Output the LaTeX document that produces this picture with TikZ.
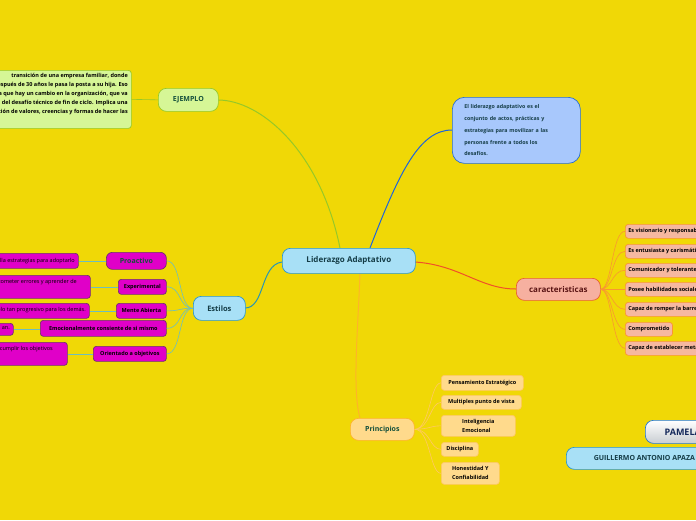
\documentclass[tikz,border=0pt]{standalone}
\usepackage{fontspec}
\setmainfont{Open Sans}
\definecolor{bg}{RGB}{240,216,6}
\definecolor{magf}{RGB}{224,0,200}
\definecolor{magd}{RGB}{110,50,110}
\definecolor{salf}{RGB}{246,184,160}
\definecolor{orl}{RGB}{250,150,50}
\definecolor{prif}{RGB}{255,218,140}
\definecolor{prid}{RGB}{255,200,100}
\definecolor{grnf}{RGB}{214,246,150}
\definecolor{grnd}{RGB}{150,200,40}
\definecolor{lbf}{RGB}{168,224,246}
\definecolor{lbd}{RGB}{40,150,210}
\definecolor{dtext}{RGB}{20,60,70}
\definecolor{gtext}{RGB}{20,80,60}
\definecolor{bln}{RGB}{30,100,220}
\definecolor{tln}{RGB}{40,150,180}
\definecolor{rln}{RGB}{240,80,40}
\definecolor{oln}{RGB}{255,180,40}
\definecolor{descf}{RGB}{168,200,252}
\definecolor{descd}{RGB}{40,110,210}
\definecolor{cyl}{RGB}{110,190,190}
\definecolor{caf}{RGB}{246,176,160}
\definecolor{cad}{RGB}{232,96,48}
\definecolor{catext}{RGB}{90,20,20}
\definecolor{gray2}{RGB}{200,205,210}
\definecolor{pad}{RGB}{40,120,200}
\definecolor{patext}{RGB}{20,40,90}
\begin{document}
\begin{tikzpicture}[x=1pt,y=-1pt,
 box/.style={draw,rounded corners=3pt,line width=0.7pt,inner sep=0pt,anchor=north west,font=\bfseries\fontsize{5.5}{9}\selectfont,align=left},
 mag/.style={box,fill=magf,draw=magd},
 sal/.style={box,fill=salf,draw=orl},
 pri/.style={box,fill=prif,draw=prid},
 grn/.style={box,fill=grnf,draw=grnd},
 lb/.style={box,fill=lbf,draw=lbd,rounded corners=8pt,font=\bfseries\fontsize{8}{10}\selectfont,text=dtext,align=center},
 lt/.style={inner sep=0pt,anchor=north east,font=\fontsize{5.5}{9}\selectfont,align=right},
 ln/.style={line width=0.6pt}]
\fill[bg] (0,0) rectangle (696,520);
\useasboundingbox (0,0) rectangle (696,520);
\clip (0,0) rectangle (696,520);
% connectors
\draw[line width=1pt,grnd] (340,248) .. controls (320,150) and (260,100) .. (218,100);
\draw[line width=1pt,bln] (370,248) .. controls (400,170) and (420,130) .. (452,130);
\draw[line width=1pt,tln] (282,262) .. controls (260,265) and (265,308) .. (245,308);
\draw[line width=1pt,rln] (415,262) .. controls (460,265) and (480,289) .. (516,289);
\draw[line width=1pt,oln] (360,273) .. controls (358,330) and (352,390) .. (360,418);
% central
\node[lb,minimum width=133pt,minimum height=25pt] (c) at (282,248) {Liderazgo Adaptativo};
% ejemplo
\node[grn,rounded corners=8pt,minimum width=60pt,minimum height=23pt,align=center,font=\bfseries\fontsize{7}{9}\selectfont,text=gtext] (ej) at (158,88) {EJEMPLO};
\node[grn,minimum width=141pt,minimum height=58pt] (ejt) at (-10,70) {};
\node[lt,font=\bfseries\fontsize{5.5}{9}\selectfont] (ejx) at (128,73) {transición de una empresa familiar, donde\\ después de 30 años le pasa la posta a su hija. Eso\\ implica que hay un cambio en la organización, que va\\ más allá del desafío técnico de fin de ciclo. Implica una\\ transformación de valores, creencias y formas de hacer las};
\draw[ln,grnd] (ejt.east) -- (ej.west);
% description
\node[box,fill=descf,draw=descd,rounded corners=12pt,minimum width=128pt,minimum height=66pt,text width=104pt,inner xsep=12pt,font=\bfseries\fontsize{5.3}{11.8}\selectfont,text=dtext] (d) at (452,97) {El liderazgo adaptativo es el\\ conjunto de actos, prácticas y\\ estrategias para movilizar a las\\ personas frente a todos los\\ desafíos.};
% estilos
\node[lb,minimum width=52pt,minimum height=24pt,font=\bfseries\fontsize{7.5}{9}\selectfont] (es) at (193,296) {Estilos};
\node[mag,rounded corners=6pt,minimum width=60pt,minimum height=17pt,align=center,font=\bfseries\fontsize{7}{9}\selectfont,text=gtext] (s1) at (106,252) {Proactivo};
\node[mag,minimum width=48pt,minimum height=15pt,align=center] (s2) at (118,279) {Experimental};
\node[mag,minimum width=50pt,minimum height=15pt,align=center] (s3) at (116,303) {Mente Abierta};
\node[mag,minimum width=126pt,minimum height=16pt,align=center] (s4) at (40,320) {Emocionalmente consiente de si mismo};
\node[mag,minimum width=73pt,minimum height=15pt,align=center] (s5) at (93,346) {Orientado a objetivos};
\node[mag,minimum width=98pt,minimum height=15pt] (t1) at (-20,253) {};
\node[mag,minimum width=110pt,minimum height=23pt] (t2) at (-20,275) {};
\node[mag,minimum width=109pt,minimum height=15pt] (t3) at (-20,303) {};
\node[mag,minimum width=33pt,minimum height=12pt] (t4) at (-20,323) {};
\node[mag,minimum width=87pt,minimum height=23pt] (t5) at (-20,342) {};
\node[lt] at (75,258) {Desarrolla estrategias para adoptarlo};
\node[lt] at (77,279) {Se permite cometer errores y aprender de};
\node[lt] at (86,307) {Es un modelo tan progresivo para los demás.};
\node[lt] at (10,326) {an.};
\node[lt] at (53,346) {Se enfoca en cumplir los objetivos};
\foreach \s in {s1,s2,s3,s4,s5}{\draw[ln,cyl] (es.west) .. controls (178,308) and (182,0|-\s.east) .. (\s.east);}
\foreach \a/\b in {t1/s1,t2/s2,t3/s3,t4/s4,t5/s5}{\draw[ln,cyl] (\a.east) -- (\b.west|-\a.east);}
% caracteristicas
\node[lb,fill=caf,draw=cad,minimum width=84pt,minimum height=22pt,text=catext] (ca) at (516,278) {caracteristicas};
\foreach \i/\y/\t in {1/224/Es visionario y responsable,2/244/Es entusiasta y carismático,3/263/Comunicador y tolerante,4/282/Posee habilidades sociales,5/302/Capaz de romper la barrera,7/341/Capaz de establecer metas}{
 \node[sal,minimum height=14pt,inner xsep=3pt] (k\i) at (625,\y) {\t\hspace*{20pt}};
 \draw[ln,orl] (ca.east) .. controls (612,289) and (612,\y+7) .. (k\i.west);}
\node[sal,minimum height=14pt,inner xsep=3pt] (k6) at (625,322) {Comprometido};
\draw[ln,orl] (ca.east) .. controls (612,289) and (612,329) .. (k6.west);
% principios
\node[lb,fill=prif,draw=oln,minimum width=64pt,minimum height=22pt,font=\bfseries\fontsize{7}{9}\selectfont,text=gtext] (pr) at (350,418) {Principios};
\node[pri,minimum width=82pt,minimum height=15pt,inner xsep=3pt] (p1) at (441,375) {Pensamiento Estratégico};
\node[pri,minimum width=80pt,minimum height=14pt,inner xsep=3pt] (p2) at (441,395) {Multiples punto de vista};
\node[pri,minimum width=74pt,minimum height=21pt,inner xsep=3pt] (p3) at (441,415) {Inteligencia\\Emocional};
\node[pri,minimum width=37pt,minimum height=14pt,inner xsep=3pt] (p4) at (441,442) {Disciplina};
\node[pri,minimum width=58pt,minimum height=22pt,inner xsep=3pt] (p5) at (441,462) {Honestidad Y\\Confiabilidad};
\foreach \p in {p1,p2,p3,p4,p5}{\draw[ln,prid] (pr.east) .. controls (430,429) and (430,0|-\p.west) .. (\p.west);}
% names
\node[lb,top color=white,bottom color=gray2,draw=pad,minimum width=70pt,minimum height=23pt,text=patext,font=\bfseries\fontsize{9}{10}\selectfont,align=left] (pa) at (645,420) {\ \ PAMELA};
\node[lb,minimum width=150pt,minimum height=22pt,font=\bfseries\fontsize{7}{9}\selectfont,align=left] (gu) at (566,447) {\hspace*{6pt}GUILLERMO ANTONIO APAZA};
\end{tikzpicture}
\end{document}
